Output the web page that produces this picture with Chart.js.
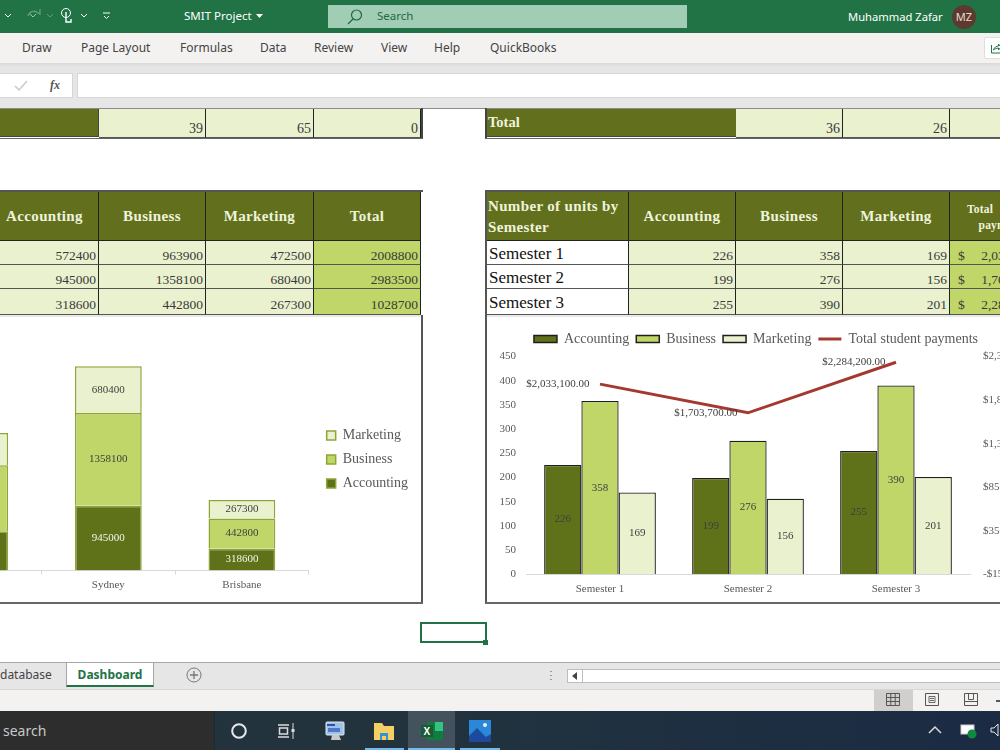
<!DOCTYPE html>
<html><head><meta charset="utf-8">
<script src="https://cdn.jsdelivr.net/npm/chart.js@4"></script>
<style>
html,body{margin:0;padding:0;width:1000px;height:750px;overflow:hidden;background:#fff}
#page{position:relative;width:1000px;height:750px;overflow:hidden;font-family:"Noto Sans",sans-serif}
.a{position:absolute;box-sizing:border-box;white-space:nowrap}
.ui{font-family:"Noto Sans",sans-serif}
.c{font-family:"Liberation Serif",serif;display:flex;align-items:center;justify-content:flex-end;padding:7px 2px 0;color:#3a3a3a;font-size:13.5px;background:#e9f1cf;border-right:1.5px solid #222;border-bottom:1.5px solid #555;overflow:hidden}
.h{font-family:"Liberation Serif",serif;font-weight:bold;font-size:15px;letter-spacing:.35px;color:#eef3dc;background:#62701d;display:flex;align-items:center;justify-content:center;text-align:center;border-right:1.5px solid #222;border-bottom:1.5px solid #222;white-space:normal;line-height:21px;padding-top:2px}
canvas{position:absolute;display:block}
</style></head><body>
<div id="page"></div>
<script>
// ---- Chart data ----
const regionValuesAccounting=[572400,945000,318600];
const regionValuesBusiness=[963900,1358100,442800];
const regionValuesMarketing=[472500,680400,267300];
const regionTotals=[2008800,2983500,1028700];
const regionLabels=['','Sydney','Brisbane'];
const semesterLabels=['Semester 1','Semester 2','Semester 3'];
const unitsAccounting=[226,199,255];
const unitsBusiness=[358,276,390];
const unitsMarketing=[169,156,201];
const totalPayments=[2033100,1703700,2284200];
const seriesNames=['Accounting','Business','Marketing'];
const paymentsName='Total student payments';
const topRowLeft=[39,65,0];
const topRowRight=[36,26];

const OLIVE='#5f7119',LIME='#c0d668',PALE='#e9f1cf',RED='#a5382f',TXT='#404040';
const SERIF='"Liberation Serif",serif';
const page=document.getElementById('page');
function box(x,y,w,h,css,html,cls){const d=document.createElement('div');d.className='a '+(cls||'');
 d.style.cssText=`left:${x}px;top:${y}px;width:${w}px;height:${h}px;`+(css||'');if(html!==undefined)d.innerHTML=html;page.appendChild(d);return d;}
function label(x,y,t,size,color,extra){return box(x,y-10,0,20,`width:auto;line-height:20px;font-size:${size}px;color:${color};`+(extra||''),t,'ui');}
function svg(x,y,w,h,inner){return box(x,y,w,h,'',`<svg width="${w}" height="${h}" viewBox="0 0 ${w} ${h}" xmlns="http://www.w3.org/2000/svg" style="display:block">${inner}</svg>`);}

// ---- Excel window chrome ----
box(0,0,1000,33,'background:#217346');
svg(0,4,115,26,`<path d="M30 10l3 3 3-3" stroke="#9fc9b2" fill="none"/><path d="M5 10l3 3 3-3" stroke="#fff" fill="none"/>
 <path d="M28 12a6 6 0 0 1 10-3l2 1v-5" stroke="#5f9c7c" fill="none" stroke-width="1.4"/><path d="M47 10l3 3 3-3" stroke="#5f9c7c" fill="none"/>
 <circle cx="66" cy="9" r="4.5" stroke="#fff" fill="none"/><path d="M66 8v10h5v-3" stroke="#fff" fill="none" stroke-width="1.4"/><path d="M81 10l3 3 3-3" stroke="#fff" fill="none"/><path d="M103 9h7M104 12l2.5 2.500 2.500-2.500" stroke="#fff" fill="none"/>`);
label(184,16,'SMIT Project',11.5,'#fff');
svg(255,13,9,6,'<path d="M1 1h7l-3.500 4z" fill="#fff"/>');
box(328,5,359,23,'background:#a0cdb3');
svg(346,8,18,18,'<circle cx="10.500" cy="7" r="5" fill="none" stroke="#1f6a43" stroke-width="1.200"/><path d="M7 11l-5 5" stroke="#1f6a43" stroke-width="1.300"/>');
label(377,16,'Search',11.500,'#236a47');
label(848,17,'Muhammad Zafar',11.200,'#fff');
box(952,5,24,24,'background:#5d3a2f;border-radius:50%;color:#ead9d2;font-size:11px;line-height:24px;text-align:center','MZ');

box(0,33,1000,30,'background:#f3f2f1');
[['Draw',22],['Page Layout',81],['Formulas',180],['Data',260],['Review',314],['View',381],['Help',434],['QuickBooks',490]]
 .forEach(t=>label(t[1],48,t[0],12,'#444'));
box(984,37,30,22,'background:#fff;border:1px solid #e1dfdd;border-radius:2px');
svg(991,42,10,12,'<path d="M.5 3v8h9M2.500 8c1-3 3-4 5-4V2l2.500 3-2.500 3V6c-2 0-3.500 1-5 2z" fill="none" stroke="#217346"/>');
box(0,63,1000,45,'background:linear-gradient(#d9d9d9,#e6e6e6 4px)');
box(0,73,73,25,'background:#fff;border:1px solid #d6d6d6;border-left:0');
svg(13,79,16,14,'<path d="M2 7l4 4 8-9" stroke="#c9c9c9" stroke-width="1.500" fill="none"/>');
box(50,75,16,20,'font:italic bold 12px \"Liberation Serif\",serif;line-height:20px;color:#555','fx');
box(77,73,930,25,'background:#fff;border:1px solid #d6d6d6');
box(0,107.500,1000,1.500,'background:#8c8c8c');

// ---- Sheet: top row fragment ----
const topEdge=[99,206,314,421];
box(0,109,99,28,'background:#62701d;border-bottom:1.500px solid #444;border-right:1.500px solid #444');
topRowLeft.forEach((v,i)=>box(topEdge[i],109,topEdge[i+1]-topEdge[i],28.500,'align-items:flex-end;line-height:16px;padding:0 2px;font-size:14px',String(v),'c'));
box(421,108,2,31,'background:#444');
box(0,137.500,423,1.500,'background:#666');
box(485,108,2,31,'background:#444');
box(487,109,249,28,'padding:3px 2px 0 1px;color:#eef3dc;font:bold 14.500px/21px \"Liberation Serif\",serif;background:#62701d;border-bottom:1.500px solid #444','Total');
[[736,843],[843,950],[950,1060]].forEach((e,i)=>box(e[0],109,e[1]-e[0],28.500,'align-items:flex-end;line-height:16px;padding:0 2px;font-size:14px',topRowRight[i]===undefined?'':String(topRowRight[i]),'c'));
box(485,137.500,515,1.500,'background:#666');

// ---- Left table ----
box(-4,190,427,2,'background:#555');
const headLeft=[...seriesNames,'Total'];
const leftCols=[[-10,99],[99,206],[206,314],[314,421]];
headLeft.forEach((t,i)=>box(leftCols[i][0],192,leftCols[i][1]-leftCols[i][0],48.500,i===0?'padding-left:1px':'',t,'h'));
const rowY=[[240.500,264.500],[264.500,289],[289,314.500]];
[regionValuesAccounting,regionValuesBusiness,regionValuesMarketing,regionTotals].forEach((arr,i)=>{
 arr.forEach((v,r)=>box(leftCols[i][0],rowY[r][0],leftCols[i][1]-leftCols[i][0],rowY[r][1]-rowY[r][0],i===3?'background:'+LIME+';':'',String(v),'c'));});

// ---- Right table ----
box(485,190,515,2,'background:#555');box(485,190,2,130,'background:#555');
box(487,192,142,48.500,'justify-content:flex-start;text-align:left;padding-left:1px','Number of units by Semester','h');
const rightCols=[[629,736],[736,843],[843,950]];
seriesNames.forEach((t,i)=>box(rightCols[i][0],192,107,48.500,'',t,'h'));
box(950,192,107,48.500,'font-size:11.500px;line-height:16px;letter-spacing:.2px;word-spacing:5px','Total student<br>payments','h');
semesterLabels.forEach((t,r)=>box(487,rowY[r][0],142,rowY[r][1]-rowY[r][0],'background:#fff;justify-content:flex-start;font-size:17px;color:#111;padding-top:4px;',t,'c'));
[unitsAccounting,unitsBusiness,unitsMarketing].forEach((arr,i)=>arr.forEach((v,r)=>box(rightCols[i][0],rowY[r][0],107,rowY[r][1]-rowY[r][0],'',String(v),'c')));
totalPayments.forEach((v,r)=>box(950,rowY[r][0],107,rowY[r][1]-rowY[r][0],'background:'+LIME+';justify-content:space-between;padding:7px 4px 0 8px;',
 '<span>$</span><span>'+v.toLocaleString('en-US',{minimumFractionDigits:2})+'</span>','c'));

// ---- Chart frames ----
box(-4,315,425,288,'background:#fff;border-top:2px solid #e8e8e8');
box(421,315,2,289,'background:#555');box(-4,602,427,2,'background:#666');
box(487,315,520,288,'background:#fff;border-top:2px solid #e8e8e8');
box(485,315,2,289,'background:#555');box(485,602,515,2,'background:#666');

// ---- Selected cell ----
box(420,622,67,21,'border:2px solid #217346');
box(483,640,5,5,'background:#217346;border:0 solid #fff');

// ---- Sheet tabs + status + taskbar ----
box(0,662,1000,28,'background:#e6e6e6;border-top:1.500px solid #a6a6a6;border-bottom:1.500px solid #d6d6d6');
label(0,675,'database',12,'#444');
box(66,662,88,25,'background:#fff;border:1px solid #a6a6a6;border-top:1.500px solid #a6a6a6;border-bottom:2px solid #217346;text-align:center;color:#217346;font-weight:bold;font-size:12px;line-height:23px','Dashboard');
svg(186,667,16,16,'<circle cx="8" cy="8" r="7" fill="none" stroke="#777"/><path d="M8 4v8M4 8h8" stroke="#777" stroke-width="1.300"/>');
svg(549,670,4,12,'<path d="M2 1v1M2 5v1M2 9v1" stroke="#999" stroke-width="2"/>');
box(567,669,440,14,'background:#fff;border:1px solid #bdbdbd');
box(567,669,16,14,'background:#fff;border:1px solid #bdbdbd');
svg(571,672,8,8,'<path d="M6 0v8L1 4z" fill="#444"/>');
box(0,690,1000,21,'background:#f3f2f1');
box(874,690,39,21,'background:#d0cfce');
svg(886,692,14,15,'<path d="M.5 1.500h13v12H.5zM.5 5.500h13M.5 9.500h13M4.800 1.500v12M9.200 1.500v12" fill="none" stroke="#555"/>');
svg(925,692,14,15,'<path d="M.5 1.500h13v12H.5z" fill="none" stroke="#555"/><path d="M4 4.500h6v6H4zM5 6.500h4M5 8.500h4" fill="none" stroke="#666"/>');
svg(964,692,14,15,'<path d="M.5 1.500h13v12H.5zM.5 9.500h13M4.500 1.500v6h5v-6" fill="none" stroke="#555"/>');
box(996,700,6,1.500,'background:#555');
box(0,711,1000,39,'background:linear-gradient(90deg,#22333e 0,#22333e 400px,#1b2b44 100%)');
box(0,711,215,39,'background:#2d2d2d;border-right:1.500px solid #1d2a33');
label(3,731,'search',14,'#c8c8c8');
svg(230,722,18,18,'<circle cx="9" cy="9" r="6.800" fill="none" stroke="#e8e8e8" stroke-width="2"/>');
svg(277,721,18,20,'<path d="M1 4h11M1 16h11M2.500 7h8v6h-8z" fill="none" stroke="#dcdcdc" stroke-width="1.500"/><path d="M16 2v16" stroke="#dcdcdc"/><rect x="14.500" y="8" width="3" height="3" fill="#dcdcdc"/>');
svg(323,720,24,22,'<rect x="3" y="2" width="18" height="13" rx="1" fill="#9fc3e6" stroke="#dfe8f0"/><rect x="4" y="4" width="8" height="2" fill="#2f4fb0"/><rect x="5" y="8" width="12" height="4" fill="#4f78c8"/><path d="M9 15h7l2 5H8z" fill="#c9c9c9"/>');
svg(373,721,22,20,'<path d="M1 2h8l2 3h10v14H1z" fill="#f4cf63"/><rect x="7" y="12" width="8" height="7" fill="#2f93d6"/><rect x="9" y="15" width="4" height="4" fill="#f4cf63"/>');
box(408,711,47,39,'background:#44525e');
svg(420,720,24,22,'<rect x="7" y="2" width="16" height="18" fill="#107c41"/><rect x="15" y="2" width="8" height="9" fill="#33c481"/><rect x="1" y="5" width="12" height="12" fill="#185c37"/><text x="3.500" y="15" font-size="10" font-weight="bold" fill="#fff" font-family="Liberation Sans">X</text>');
svg(469,720,22,22,'<rect width="22" height="22" fill="#2b88d8"/><path d="M0 22V16l8-8 9 9 5-3v8z" fill="#1d4a9c"/><circle cx="16" cy="5" r="2" fill="#e6f2ff"/>');
box(408,748,47,2,'background:#76b9ed');box(365,748,39,2,'background:#76b9ed');box(460,748,40,2,'background:#76b9ed');
svg(928,725,14,10,'<path d="M1 8l6-6 6 6" fill="none" stroke="#d8d8d8" stroke-width="1.500"/>');
svg(960,723,18,16,'<rect x="1" y="2" width="13" height="9" fill="#fff" stroke="#ccc"/><circle cx="12" cy="11" r="4.500" fill="#0e8a3e"/>');
svg(990,723,12,14,'<path d="M1 5h3l4-4v12l-4-4H1z" fill="none" stroke="#e6e6e6"/>');

// ---- Charts ----
function makeCanvas(x,y,w,h){const c=document.createElement('canvas');c.width=w;c.height=h;c.style.cssText=`left:${x}px;top:${y}px;width:${w}px;height:${h}px`;page.appendChild(c);return c;}

const valueLabels={id:'valueLabels',afterDatasetsDraw(chart,args,opts){
 const ctx=chart.ctx;ctx.save();ctx.font='11px '+SERIF;ctx.textBaseline='middle';
 chart.data.datasets.forEach((ds,i)=>{const meta=chart.getDatasetMeta(i);
  meta.data.forEach((el,j)=>{const fmt=ds.labelFormat||String;
   if(meta.type==='line'){ctx.textAlign='right';ctx.fillStyle=TXT;ctx.fillText(fmt(ds.data[j]),el.x-10.500,el.y);}
   else{ctx.textAlign='center';ctx.fillStyle=ds.labelColor||TXT;ctx.fillText(fmt(ds.data[j]),el.x,(el.y+el.base)/2);}
  });});
 ctx.restore();}};
const legendShift={id:'legendShift',afterLayout(chart,args,opts){const l=chart.legend;if(!l)return;
 l.left+=opts.dx||0;l.right+=opts.dx||0;l.top+=opts.dy||0;l.bottom+=opts.dy||0;}};
const legendStyle=chart=>Chart.defaults.plugins.legend.labels.generateLabels(chart).map(it=>{
 const ds=chart.data.datasets[it.datasetIndex];
 it.pointStyle=ds.type==='line'?'line':'rect';it.lineWidth=ds.type==='line'?3:1.500;return it;});
const legendSort=(a,b)=>a.datasetIndex-b.datasetIndex;

new Chart(makeCanvas(-92,315,513,288),{type:'bar',plugins:[valueLabels,legendShift],
 data:{labels:regionLabels,datasets:[
  {label:seriesNames[0],data:regionValuesAccounting,backgroundColor:OLIVE,borderColor:'#8ea538',borderWidth:1.500,labelColor:'#f4f6ea',barPercentage:.5,categoryPercentage:1},
  {label:seriesNames[1],data:regionValuesBusiness,backgroundColor:LIME,borderColor:'#8ea538',borderWidth:1.500,barPercentage:.5,categoryPercentage:1},
  {label:seriesNames[2],data:regionValuesMarketing,backgroundColor:PALE,borderColor:'#8ea538',borderWidth:1.500,barPercentage:.5,categoryPercentage:1}]},
 options:{responsive:false,animation:false,devicePixelRatio:1,
  layout:{padding:{top:16,right:11,left:0,bottom:0}},
  plugins:{tooltip:{enabled:false},
   legendShift:{dx:8,dy:-7.500},
   legend:{position:'right',reverse:true,labels:{font:{family:SERIF,size:14},color:'#595959',boxWidth:9,boxHeight:9,padding:10,usePointStyle:true,pointStyleWidth:9,generateLabels:legendStyle}}},
  scales:{
   x:{stacked:true,afterFit(a){a.height=32.500;},grid:{drawOnChartArea:false,color:'#d9d9d9',tickLength:4},border:{color:'#d9d9d9'},ticks:{font:{family:SERIF,size:11},color:'#595959',padding:4,maxRotation:0}},
   y:{stacked:true,display:false,min:0,max:3500000}}}});

new Chart(makeCanvas(487,315,600,288),{type:'bar',plugins:[valueLabels,legendShift],
 data:{labels:semesterLabels,datasets:[
  {label:seriesNames[0],data:unitsAccounting,backgroundColor:OLIVE,borderColor:'#1e1e1e',borderWidth:1.300,yAxisID:'y',order:1},
  {label:seriesNames[1],data:unitsBusiness,backgroundColor:LIME,borderColor:'#1e1e1e',borderWidth:1.300,yAxisID:'y',order:1},
  {label:seriesNames[2],data:unitsMarketing,backgroundColor:PALE,borderColor:'#1e1e1e',borderWidth:1.300,yAxisID:'y',order:1},
  {type:'line',label:paymentsName,data:totalPayments,borderColor:RED,backgroundColor:RED,borderWidth:3,pointRadius:0,tension:0,yAxisID:'y2',order:0,
   labelFormat:v=>'$'+v.toLocaleString('en-US',{minimumFractionDigits:2})}]},
 options:{responsive:false,animation:false,devicePixelRatio:1,
  categoryPercentage:.755,barPercentage:1,
  layout:{padding:{top:10.500,right:0,left:0,bottom:0}},
  plugins:{tooltip:{enabled:false},
   legendShift:{dx:-31,dy:-.5},
   legend:{position:'top',labels:{font:{family:SERIF,size:14},color:'#595959',boxWidth:23,boxHeight:7,padding:7,usePointStyle:true,pointStyleWidth:23,sort:legendSort,generateLabels:legendStyle}}},
  scales:{
   x:{afterFit(a){a.height=28.700;},grid:{display:false},border:{color:'#d9d9d9'},ticks:{font:{family:SERIF,size:11},color:'#595959',padding:0,maxRotation:0}},
   y:{position:'left',min:0,max:450,afterFit(a){a.width=39;},grid:{display:false},border:{display:false},ticks:{stepSize:50,padding:2,font:{family:SERIF,size:11},color:'#595959'}},
   y2:{position:'right',min:-150000,max:2350000,afterFit(a){a.width=117;},grid:{display:false},border:{display:false},
    ticks:{stepSize:500000,padding:5,font:{family:SERIF,size:11},color:'#595959',
     callback:v=>(v<0?'-$':'$')+Math.abs(v).toLocaleString('en-US',{minimumFractionDigits:2})}}}}});
</script></body></html>
